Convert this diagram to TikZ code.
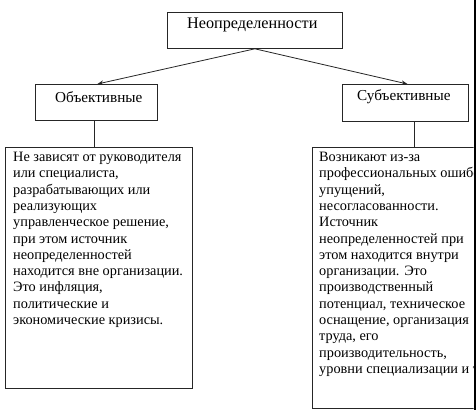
\documentclass[tikz,border=0pt]{standalone}
\usepackage{fontspec}
\setmainfont{Liberation Serif}
\usetikzlibrary{arrows.meta}
\begin{document}
\begin{tikzpicture}[x=1pt,y=-1pt,
  box/.style={draw=black!85,line width=0.8pt,inner sep=0pt,anchor=north west},
  lbl/.style={inner sep=0pt,font=\fontsize{15.2}{17}\selectfont},
  txt/.style={inner sep=0pt,anchor=north west,align=left,font=\fontsize{14.3}{16.3}\selectfont},
  conn/.style={draw=black!85,line width=0.8pt},
  arr/.style={conn,-{Stealth[length=6pt,width=4.5pt]}}]
\useasboundingbox[fill=white] (0,0) rectangle (476,410);
% top box
\node[box,minimum width=175pt,minimum height=36pt] (T) at (167,12) {};
\node[lbl,anchor=west,font=\fontsize{16.2}{18}\selectfont] (Tt) at (187,25) {Неопределенности};
% second level
\node[box,minimum width=122pt,minimum height=36pt] (O) at (35,84) {};
\node[lbl,anchor=west] (Ot) at (55,97) {Объективные};
\node[box,minimum width=126pt,minimum height=37pt] (S) at (342,84) {};
\node[lbl,anchor=west] (St) at (357,97) {Субъективные};
% big boxes
\node[box,minimum width=187pt,minimum height=241pt] (L) at (5,147) {};
\node[txt] (Lt) at (13,152) {Не зависят от руководителя\\или специалиста,\\разрабатывающих или\\реализующих\\управленческое решение,\\при этом источник\\неопределенностей\\находится вне организации.\\Это инфляция,\\политические и\\экономические кризисы.};
\begin{scope}
\clip (0,0) rectangle (473.5,410);
\node[box,minimum width=180pt,minimum height=261pt] (R) at (312,147) {};
\node[txt] (Rt) at (319,152) {Возникают из-за\\профессиональных ошибок,\\упущений,\\несогласованности.\\Источник\\неопределенностей при\\этом находится внутри\\организации. Это\\производственный\\потенциал, техническое\\оснащение, организация\\труда, его\\производительность,\\уровни специализации и т.д.};
\end{scope}
% connectors
\draw[arr] (T.south) -- ([xshift=1pt]O.north);
\draw[arr] (T.south) -- ([xshift=2pt]S.north);
\draw[conn] ([xshift=-2.5pt]O.south) -- ([xshift=-2.5pt]O.south |- L.north);
\draw[conn] ([xshift=9pt]S.south) -- ([xshift=9pt]S.south |- R.north);
% right edge bar
\fill[black] (474,0) rectangle (476,410);
\end{tikzpicture}
\end{document}
